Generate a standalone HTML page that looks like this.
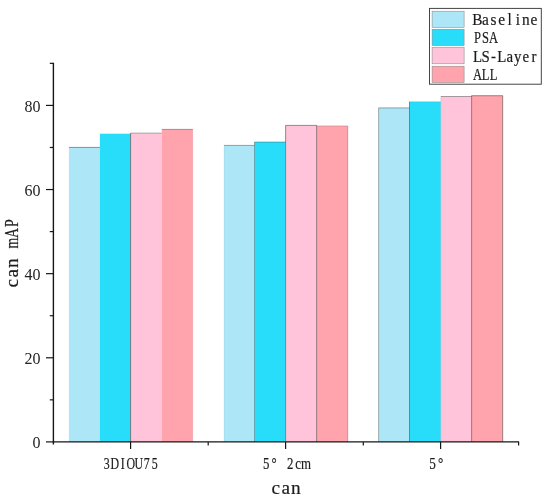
<!DOCTYPE html>
<html lang="en">
<head>
<meta charset="utf-8">
<title>can mAP</title>
<style>
html,body{margin:0;padding:0;background:#fff;}
body{width:550px;height:503px;overflow:hidden;}
svg{display:block;}
.t{font-family:"Liberation Serif","Noto Serif CJK SC",serif;fill:#1c1c1c;stroke:#1c1c1c;stroke-width:0.2px;text-anchor:middle;}
.n{stroke:none;fill:#222;}
</style>
</head>
<body>
<svg width="550" height="503" viewBox="0 0 550 503">
<rect width="550" height="503" fill="#ffffff"/>
<g shape-rendering="geometricPrecision">
<rect x="68.90" y="147.40" width="31.00" height="294.50" fill="#ade6f7"/>
<rect x="99.90" y="133.70" width="30.70" height="308.20" fill="#27ddfa"/>
<rect x="130.60" y="133.10" width="31.20" height="308.80" fill="#ffc4d9"/>
<rect x="161.80" y="129.40" width="31.00" height="312.50" fill="#ffa4ac"/>
<rect x="224.00" y="145.40" width="30.50" height="296.50" fill="#ade6f7"/>
<rect x="254.50" y="142.00" width="31.10" height="299.90" fill="#27ddfa"/>
<rect x="285.60" y="125.40" width="31.00" height="316.50" fill="#ffc4d9"/>
<rect x="316.60" y="125.90" width="31.20" height="316.00" fill="#ffa4ac"/>
<rect x="378.60" y="107.90" width="30.90" height="334.00" fill="#ade6f7"/>
<rect x="409.50" y="101.70" width="31.30" height="340.20" fill="#27ddfa"/>
<rect x="440.80" y="96.50" width="30.80" height="345.40" fill="#ffc4d9"/>
<rect x="471.60" y="95.70" width="31.10" height="346.20" fill="#ffa4ac"/>
</g>
<g stroke="#3a3a3a" stroke-width="0.75" fill="none">
<path d="M68.90 147.40H99.90" stroke-opacity="0.7"/>
<path d="M130.60 133.10H161.80" stroke-opacity="0.5"/>
<path d="M161.80 129.40H192.80" stroke-opacity="0.6"/>
<path d="M130.60 133.10V441.9" stroke-opacity="0.8"/>
<path d="M192.80 129.40V441.9" stroke-opacity="0.1"/>
<path d="M224.00 145.40H254.50" stroke-opacity="0.6"/>
<path d="M254.50 142.00H285.60" stroke-opacity="0.5"/>
<path d="M285.60 125.40H316.60" stroke-opacity="0.7"/>
<path d="M316.60 125.90H347.80" stroke-opacity="0.3"/>
<path d="M224.00 145.40V441.9" stroke-opacity="0.1"/>
<path d="M254.50 142.00V441.9" stroke-opacity="0.5"/>
<path d="M285.60 125.40V441.9" stroke-opacity="0.7"/>
<path d="M316.60 125.40V441.9" stroke-opacity="0.7"/>
<path d="M347.80 125.90V441.9" stroke-opacity="0.4"/>
<path d="M378.60 107.90H409.50" stroke-opacity="0.6"/>
<path d="M409.50 101.70H440.80" stroke-opacity="0.15"/>
<path d="M440.80 96.50H471.60" stroke-opacity="0.6"/>
<path d="M471.60 95.70H502.70" stroke-opacity="0.7"/>
<path d="M378.60 107.90V441.9" stroke-opacity="0.5"/>
<path d="M409.50 101.70V441.9" stroke-opacity="0.7"/>
<path d="M440.80 96.50V441.9" stroke-opacity="0.15"/>
<path d="M471.60 95.70V441.9" stroke-opacity="0.7"/>
<path d="M502.70 95.70V441.9" stroke-opacity="0.7"/>
</g>
<g stroke="#161616" stroke-width="1.4" fill="none">
<path d="M53.4 62.76V444.6"/>
<path d="M52.7 441.9H519.1"/>
</g>
<g stroke="#161616" stroke-width="1.2" fill="none">
<path d="M46.0 441.90H53.4"/>
<path d="M49.8 399.84H53.4"/>
<path d="M46.0 357.78H53.4"/>
<path d="M49.8 315.72H53.4"/>
<path d="M46.0 273.66H53.4"/>
<path d="M49.8 231.60H53.4"/>
<path d="M46.0 189.54H53.4"/>
<path d="M49.8 147.48H53.4"/>
<path d="M46.0 105.42H53.4"/>
<path d="M49.8 63.36H53.4"/>
<path d="M130.6 441.9V449.1"/>
<path d="M208.2 441.9V445.4"/>
<path d="M285.6 441.9V449.1"/>
<path d="M363.3 441.9V445.4"/>
<path d="M440.6 441.9V449.1"/>
<path d="M518.6 441.9V445.4"/>
</g>
<text class="t n" font-size="16.5" transform="scale(0.97 1)" x="37.63" y="448.0">0</text>
<text class="t n" font-size="16.5" transform="scale(0.97 1)" x="29.38 37.63" y="363.88">20</text>
<text class="t n" font-size="16.5" transform="scale(0.97 1)" x="29.38 37.63" y="279.76">40</text>
<text class="t n" font-size="16.5" transform="scale(0.97 1)" x="29.38 37.63" y="195.64">60</text>
<text class="t n" font-size="16.5" transform="scale(0.97 1)" x="29.38 37.63" y="111.52">80</text>
<text class="t" font-size="16.5" transform="scale(0.72 1)" x="148.33 159.44 170.56 181.67 192.78 203.89 215.00" y="468.6">3DIOU75</text>
<text class="t" font-size="16.5" transform="scale(0.78 1)" x="341.15 351.41 361.67 371.92 382.18 392.44" y="468.6">5° 2cm</text>
<text class="t" font-size="16.5" transform="scale(0.8 1)" x="540.75 550.75" y="468.6">5°</text>
<text class="t" font-size="19.3" transform="scale(1.0 1)" x="275.80 285.80 295.80" y="494.4">can</text>
<text class="t" font-size="19.3" transform="translate(17.6 253.1) rotate(-90) scale(1.0 1)" x="-30.00 -20.00 -10.00" y="0">can</text>
<text class="t" font-size="19.3" transform="translate(17.6 253.1) rotate(-90) scale(0.72 1)" x="13.89 27.78 41.67" y="0">mAP</text>
<rect x="429.5" y="8.4" width="111.8" height="75.8" fill="#fff" stroke="#3c3c3c" stroke-width="0.95"/>
<g stroke="#888" stroke-width="0.55">
<rect x="432.1" y="11.2" width="32" height="16.2" fill="#ade6f7"/>
<rect x="432.1" y="29.3" width="32" height="16.2" fill="#27ddfa"/>
<rect x="432.1" y="47.6" width="32" height="16.2" fill="#ffc4d9"/>
<rect x="432.1" y="66.2" width="32" height="16.2" fill="#ffa4ac"/>
</g>
<text class="t" font-size="16.5" transform="scale(0.93 1)" x="513.38 522.06 530.75 539.44 548.13 556.82 565.51 574.19" y="24.9">Baseline</text>
<text class="t" font-size="16.5" transform="scale(0.76 1)" x="628.21 638.84 649.47" y="43.2">PSA</text>
<text class="t" font-size="16.5" transform="scale(0.9 1)" x="530.49 539.47 548.44 557.42 566.40 575.38 584.36 593.33" y="61.8">LS-Layer</text>
<text class="t" font-size="16.5" transform="scale(0.76 1)" x="628.21 638.84 649.47" y="80.2">ALL</text>
</svg>
</body>
</html>
